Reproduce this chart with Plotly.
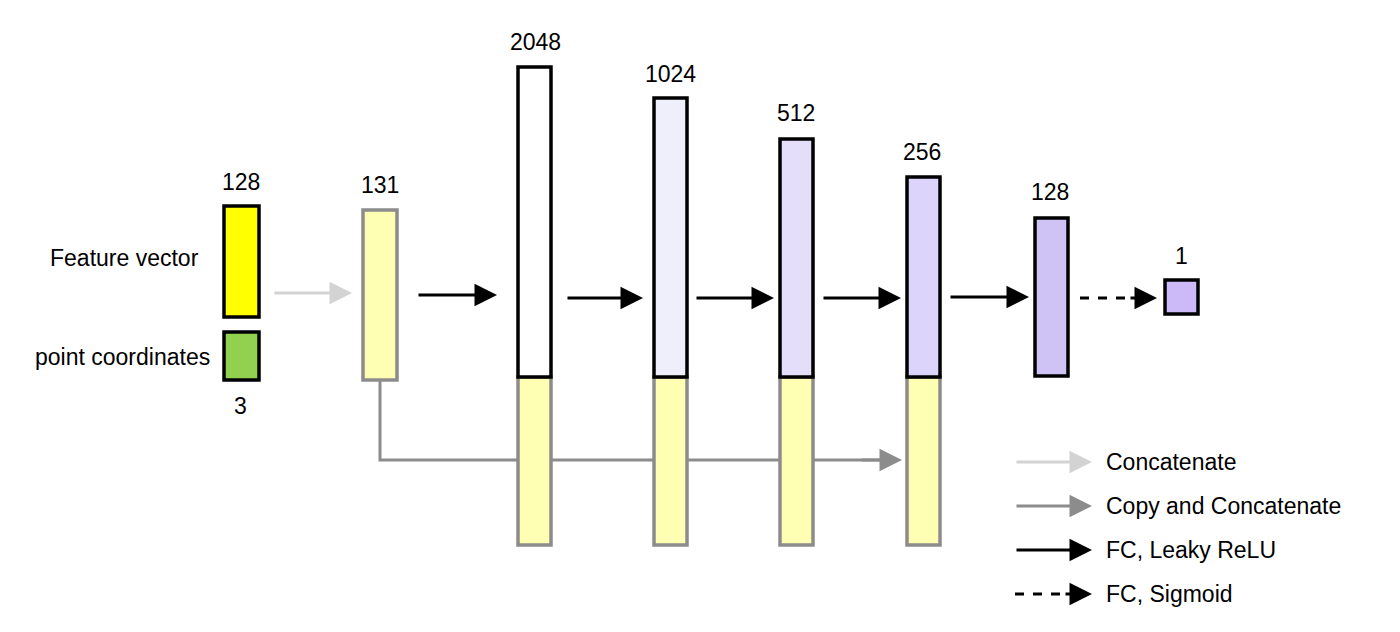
import plotly.graph_objects as go

# data
layer_sizes = ["128", "3", "131", "2048", "1024", "512", "256", "128", "1"]
input_labels = ["Feature vector", "point coordinates"]
legend_labels = ["Concatenate", "Copy and Concatenate", "FC, Leaky ReLU", "FC, Sigmoid"]

# layout (pixel geometry)
boxes = [  # x0,x1,y0,y1,fill,line
    (224, 259, 206, 317, "#ffff00", "black"),
    (224, 259, 332, 380, "#92d050", "black"),
    (363, 397, 210, 380, "#ffffb3", "#8c8c8c"),
    (518, 551, 67, 377, "#ffffff", "black"),
    (654, 687, 98, 377, "#efeefb", "black"),
    (780, 813, 139, 377, "#e4defb", "black"),
    (907, 940, 177, 377, "#dcd4fa", "black"),
    (1035, 1068, 218, 376, "#cfc2f5", "black"),
    (1165, 1198, 280, 314, "#cbbaf7", "black"),
]
lower = [(518, 551), (654, 687), (780, 813), (907, 940)]
label_pos = [(241, 182), (240, 406), (380, 185), (535, 42), (670, 74), (796, 113), (922, 152), (1050, 192), (1181, 256)]

fig = go.Figure()
shapes, ann = [], []
font = dict(family="Liberation Sans, Arial", size=23, color="black")

shapes.append(dict(type="path", path="M 380 380 L 380 460 L 880 460", line=dict(color="#8c8c8c", width=3)))
for x0, x1 in lower:
    shapes.append(dict(type="rect", x0=x0, x1=x1, y0=377, y1=545, fillcolor="#ffffb3", line=dict(color="#8c8c8c", width=3.5)))
for x0, x1, y0, y1, f, l in boxes:
    shapes.append(dict(type="rect", x0=x0, x1=x1, y0=y0, y1=y1, fillcolor=f, line=dict(color=l, width=3.5)))
for t, (x, y) in zip(layer_sizes, label_pos):
    ann.append(dict(x=x, y=y, text=t, showarrow=False, font=font))
ann.append(dict(x=201, y=258, text=input_labels[0], showarrow=False, font=font, xanchor="right"))
ann.append(dict(x=212, y=357, text=input_labels[1], showarrow=False, font=font, xanchor="right"))

def arrow(x0, x1, y, color, dash=False):
    if dash:
        shapes.append(dict(type="line", x0=x0, x1=x1 - 26, y0=y, y1=y, line=dict(color=color, width=3, dash="dash")))
        x0s = x1 - 28
    else:
        x0s = x0
    ann.append(dict(x=x1, y=y, ax=x0s, ay=y, axref="x", ayref="y", xref="x", yref="y", text="",
                    showarrow=True, arrowhead=2, arrowsize=1.5, arrowwidth=3, arrowcolor=color))

arrow(273, 352, 293, "#d3d3d3")
arrow(860, 902, 460, "#8c8c8c")
for x0, x1, y in [(417, 497, 295), (566, 643, 298), (695, 774, 298), (822, 901, 298), (949, 1029, 297)]:
    arrow(x0, x1, y, "black")
arrow(1080, 1157, 298, "black", dash=True)

leg_colors = ["#d3d3d3", "#8c8c8c", "black", "black"]
for i, (t, c) in enumerate(zip(legend_labels, leg_colors)):
    y = 462 + i * 44
    arrow(1015, 1092, y, c, dash=(i == 3))
    ann.append(dict(x=1104, y=y, text=t, showarrow=False, font=font, xanchor="left"))

fig.update_layout(width=1400, height=632, margin=dict(l=0, r=0, t=0, b=0),
                  plot_bgcolor="white", paper_bgcolor="white", shapes=shapes, annotations=ann,
                  xaxis=dict(range=[8, 1408], visible=False),
                  yaxis=dict(range=[640, 8], visible=False), showlegend=False)
fig.write_html("out.html")
